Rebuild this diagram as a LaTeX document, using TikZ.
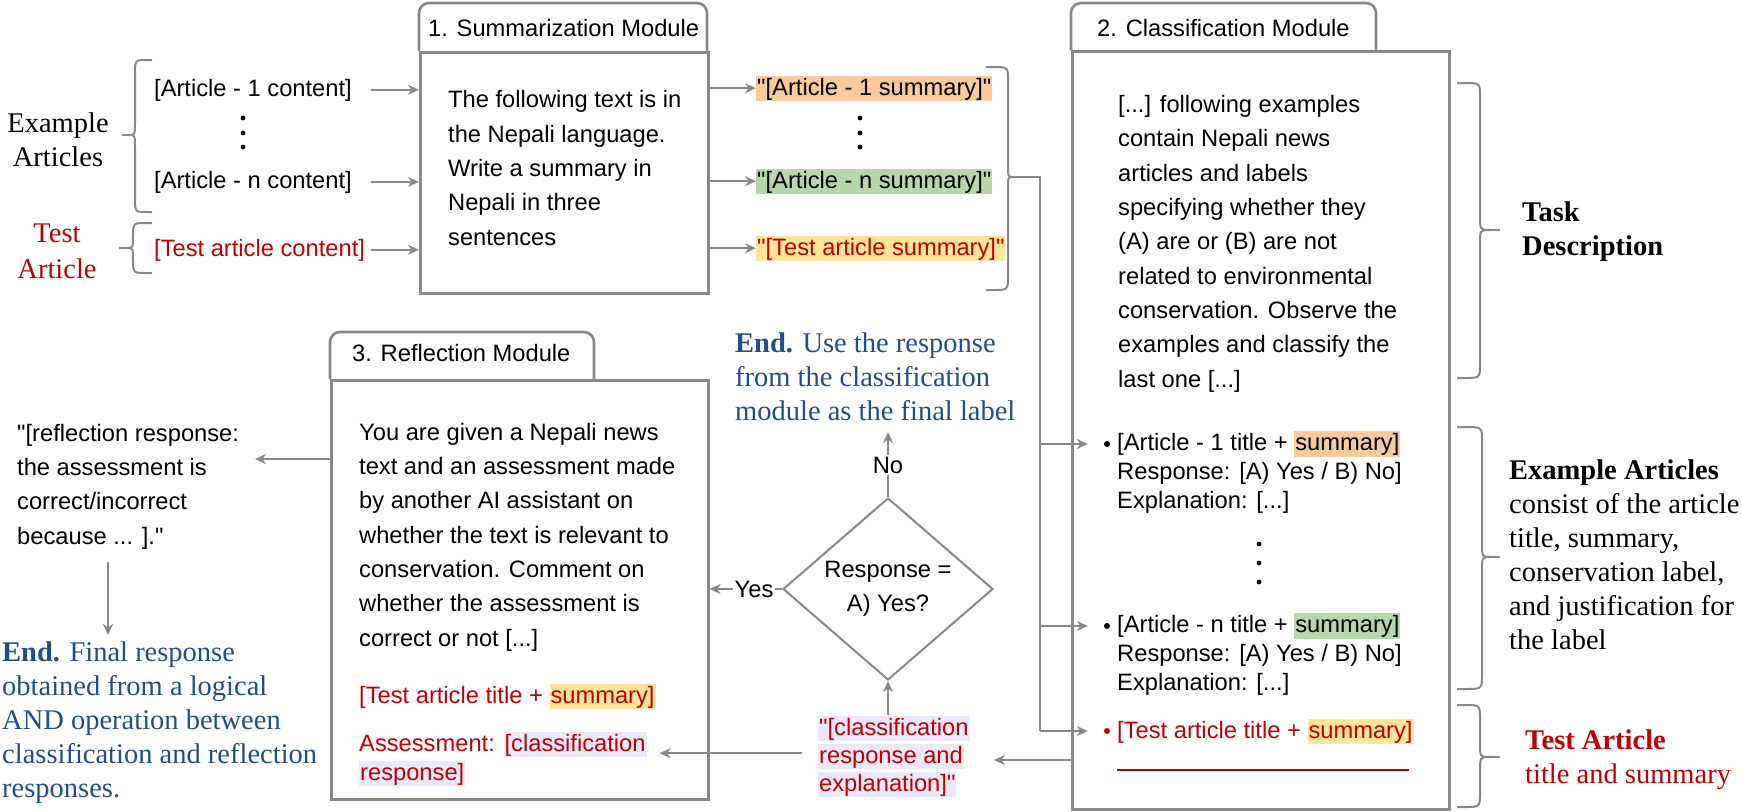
\documentclass[tikz,border=0pt]{standalone}
\usepackage{fontspec}
\setmainfont{Liberation Sans}
\newfontfamily\serifrm{Liberation Serif}
\usetikzlibrary{arrows.meta, shapes.geometric, calc}
\definecolor{lgray}{HTML}{888888}
\definecolor{redt}{HTML}{C00000}
\definecolor{bluet}{HTML}{1F4E8A}
\definecolor{hlor}{HTML}{F9CB9C}
\definecolor{hlgr}{HTML}{B6D7A8}
\definecolor{hlye}{HTML}{FFE599}
\definecolor{hlpu}{HTML}{ECE8F7}
\newcommand\sansf{\fontsize{23.7pt}{34.3pt}\selectfont}
\newcommand\itemf{\fontsize{23.7pt}{28.7pt}\selectfont}
\newcommand\purpf{\fontsize{23.7pt}{28pt}\selectfont}
\newcommand\serff{\serifrm\fontsize{28.5pt}{34pt}\selectfont}
\newcommand\qq{\textquotedbl}
\newcommand\hlbox[2]{{\setlength{\fboxsep}{1pt}\colorbox{#1}{\vrule width 0pt height 18.5pt depth 4.5pt #2}}}
% brace: x0 (ends), xv (vertical), xt (tip), ytop, ymid, ybot
\newcommand\RBrace[6]{%
  \draw[brc] (#1,#4) -- ({#1+0.3*(#2-#1)},#4) .. controls (#2,#4) .. (#2,{#4+14})
    -- (#2,{#5-14}) .. controls (#2,#5) .. ({#2+0.5*(#3-#2)},#5)
    .. controls (#2,#5) .. (#2,{#5+14}) -- (#2,{#6-14})
    .. controls (#2,#6) .. ({#1+0.3*(#2-#1)},#6) -- (#1,#6);
  \draw[brc] ({#2+0.5*(#3-#2)},#5) -- (#3,#5);}
\newcommand\LBrace[6]{%
  \draw[brc] (#1,#4) -- ({#1+0.3*(#2-#1)},#4) .. controls (#2,#4) .. (#2,{#4+14})
    -- (#2,{#5-12}) .. controls (#2,#5) .. ({#2+0.5*(#3-#2)},#5)
    .. controls (#2,#5) .. (#2,{#5+12}) -- (#2,{#6-14})
    .. controls (#2,#6) .. ({#1+0.3*(#2-#1)},#6) -- (#1,#6);
  \draw[brc] ({#2+0.5*(#3-#2)},#5) -- (#3,#5);}
\tikzset{
  brc/.style={draw=lgray, line width=2pt},
  ln/.style={draw=lgray, line width=2pt},
  arr/.style={draw=lgray, line width=2pt, -{Stealth[length=11pt,width=10pt]}},
  boxst/.style={draw=lgray, line width=2.6pt, inner sep=0pt},
  tabst/.style={draw=lgray, line width=2.6pt, rounded corners=10pt},
  txt/.style={inner sep=0pt, anchor=base west, align=left, font=\sansf},
  ser/.style={inner sep=0pt, anchor=base west, align=left, font=\serff},
  bul/.style={circle, fill=black, inner sep=0pt, minimum size=6pt},
}
\begin{document}
\begin{tikzpicture}[x=1pt, y=-1pt]
\useasboundingbox (0,0) rectangle (1742,811);
% (multi-line nodes are placed by the baseline of their LAST line)

% ---------- left inputs ----------
\node[ser, align=center, anchor=base] (exlab) at (58,166) {Example\\Articles};
\node[ser, align=center, anchor=base, text=redt] (testlab) at (57,278) {Test\\[2pt]Article};
\LBrace{152}{135}{122}{60}{135}{212}
\LBrace{152}{133}{119}{223}{248}{273}
\node[txt] (a1) at (154,96) {[Article - 1 content]};
\node[txt] (an) at (154,188) {[Article - n content]};
\node[txt, text=redt] (at) at (154,256) {[Test article content]};
\foreach \y in {118,133,147} \fill (243,\y) circle (2.4);

% ---------- summarization module ----------
\node[boxst, anchor=north west, minimum width=288pt, minimum height=241pt] (sumbox) at (419,51) {};
\draw[tabst] (419,51) -- (419,3) -- (707,3) -- (707,51);
\node[txt] (sumtitle) at (428,36) {1. Summarization Module};
\node[txt] (sumtext) at (448,245) {The following text is in\\the Nepali language.\\Write a summary in\\Nepali in three\\sentences};
\draw[arr] ($(a1.east -| sumbox.west)+(-48,0)$) -- (a1.east -| sumbox.west);
\draw[arr] ($(an.east -| sumbox.west)+(-48,0)$) -- (an.east -| sumbox.west);
\draw[arr] ($(at.east -| sumbox.west)+(-48,0)$) -- (at.east -| sumbox.west);

% summaries
\node[txt] (s1) at (756,95) {\hlbox{hlor}{\qq[Article - 1 summary]\qq}};
\node[txt] (sn) at (756,188) {\hlbox{hlgr}{\qq[Article - n summary]\qq}};
\node[txt, text=redt] (st) at (756,255) {\hlbox{hlye}{\qq[Test article summary]\qq}};
\foreach \y in {118,133,147} \fill (860,\y) circle (2.4);
\draw[arr] (s1.west -| sumbox.east) -- (s1.west);
\draw[arr] (sn.west -| sumbox.east) -- (sn.west);
\draw[arr] (st.west -| sumbox.east) -- (st.west);
\RBrace{986}{1008}{1016}{67}{177}{290}
\coordinate (sbtip) at (1016,177);
\coordinate (bus) at (1040,177);

% ---------- classification module ----------
\node[boxst, anchor=north west, minimum width=377pt, minimum height=758pt] (clsbox) at (1071,50) {};
\draw[tabst] (1071,50) -- (1071,3) -- (1376,3) -- (1376,50);
\node[txt] (clstitle) at (1097,36) {2. Classification Module};
\node[txt] (clstext) at (1118,387) {[...] following examples\\contain Nepali news\\articles and labels\\specifying whether they\\(A) are or (B) are not\\related to environmental\\conservation. Observe the\\examples and classify the\\last one [...]};

\node[bul] (b1) at (1107,444) {};
\node[txt, font=\itemf] (i1) at (1117,508) {[Article - 1 title + \hlbox{hlor}{summary]}\\Response: [A) Yes / B) No]\\Explanation: [...]};
\foreach \y in {544,563,582} \fill (1259,\y) circle (2.4);
\node[bul] (bn) at (1107,626) {};
\node[txt, font=\itemf] (in) at (1117,690) {[Article - n title + \hlbox{hlgr}{summary]}\\Response: [A) Yes / B) No]\\Explanation: [...]};
\node[bul, fill=redt] (bt) at (1107,731) {};
\node[txt, text=redt] (it) at (1117,738) {[Test article title + \hlbox{hlye}{summary]}};
\draw[redt, line width=1.3pt] (1117,770) -- (1409,770);

\draw[ln] (sbtip) -- (bus) -- (bus |- bt);
\draw[arr] (bus |- b1) -- ($(b1.west)+(-16,0)$);
\draw[arr] (bus |- bn) -- ($(bn.west)+(-16,0)$);
\draw[arr] (bus |- bt) -- ($(bt.west)+(-16,0)$);

% right annotations
\RBrace{1457}{1480}{1500}{83}{230}{378}
\node[ser, font=\serff\bfseries] (tasklab) at (1522,255) {Task\\Description};
\RBrace{1457}{1482}{1500}{427}{557}{689}
\node[ser] (exann) at (1509,649) {\textbf{Example Articles}\\consist of the article\\title, summary,\\conservation label,\\and justification for\\the label};
\RBrace{1457}{1480}{1500}{705}{757}{807}
\node[ser, text=redt] (testann) at (1525,783) {\textbf{Test Article}\\title and summary};

% ---------- decision ----------
\node[diamond, draw=lgray, line width=2pt, shape aspect=1.15, minimum width=210pt, minimum height=182pt, inner sep=0pt, align=center, font=\sansf] (dec) at (888,589) {Response =\\A) Yes?};
\node[ser, text=bluet] (endcls) at (735,420) {\textbf{End.} Use the response\\from the classification\\module as the final label};
\draw[arr] (dec.north) -- (888,432);
\node[font=\sansf, fill=white, inner sep=2pt] (nolab) at (888,465) {No};

\node[txt, font=\purpf, text=redt] (cre) at (818,791) {\hlbox{hlpu}{\qq[classification}\\\hlbox{hlpu}{response and}\\\hlbox{hlpu}{explanation]\qq}};
\draw[arr] (dec.south |- cre.north) -- (dec.south);
\coordinate (cout) at (1071,760);
\draw[arr] (cout) -- (dec.east |- cout);

% ---------- reflection module ----------
\node[boxst, anchor=north west, minimum width=377pt, minimum height=419pt] (refbox) at (330,379) {};
\draw[tabst] (330,379) -- (330,332) -- (594,332) -- (594,379);
\node[txt] (reftitle) at (352,361) {3. Reflection Module};
\node[txt] (reftext) at (359,646) {You are given a Nepali news\\text and an assessment made\\by another AI assistant on\\whether the text is relevant to\\conservation. Comment on\\whether the assessment is\\correct or not [...]};
\node[txt, text=redt] (reftest) at (359,703) {[Test article title + \hlbox{hlye}{summary]}};
\node[txt, font=\itemf, text=redt] (refass) at (359,780) {Assessment: \hlbox{hlpu}{[classification}\\\hlbox{hlpu}{response]}};

\draw[arr] (dec.west) -- (dec.west -| refbox.east);
\node[font=\sansf, fill=white, inner sep=2pt] (yeslab) at (754,589) {Yes};
\draw[arr] ($(cre.west)+(-16,-3)$) -- ($(cre.west -| refbox.east)+(-50,-3)$);

% left outputs
\node[txt] (refout) at (17,544) {\qq[reflection response:\\the assessment is\\correct/incorrect\\because ... ].\qq};
\coordinate (rin) at (330,459);
\draw[arr] (rin) -- (255,459);
\node[ser, text=bluet] (endfin) at (2,797) {\textbf{End.} Final response\\obtained from a logical\\AND operation between\\classification and reflection\\responses.};
\draw[arr] (108,562) -- ($(108,562 |- endfin.north)+(0,-6)$);
\end{tikzpicture}
\end{document}
